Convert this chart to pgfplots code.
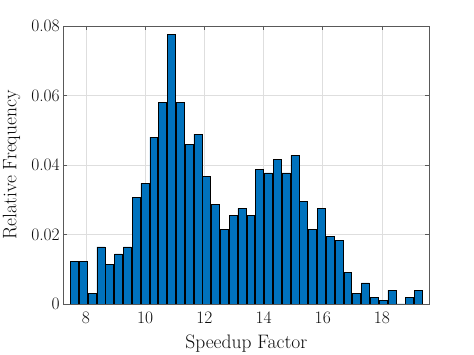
\documentclass[border=0pt]{standalone}
\usepackage{fontspec}
\usepackage{pgfplots}
\pgfplotsset{compat=1.18}
\definecolor{mblue}{rgb}{0,0.447,0.741}
\definecolor{mgrid}{rgb}{0.87,0.87,0.87}
\definecolor{maxis}{rgb}{0.35,0.35,0.35}
\definecolor{mtext}{rgb}{0.05,0.05,0.05}
\begin{document}
\begin{tikzpicture}
\begin{axis}[
  name=ax,
  scale only axis,
  width=366pt, height=278pt,
  xmin=7.233, xmax=19.60,
  ymin=0, ymax=0.08,
  xtick={8,10,12,14,16,18},
  ytick={0,0.02,0.04,0.06,0.08},
  yticklabels={0,0.02,0.04,0.06,0.08},
  scaled y ticks=false,
  /pgf/number format/assume math mode=true,
  ticklabel style={font=\fontsize{17.5}{20}\selectfont, text=mtext},
  xticklabel style={yshift=-4pt},
  label style={font=\fontsize{19.5}{22}\selectfont, text=mtext},
  xlabel style={yshift=-5pt},
  ylabel style={yshift=4pt},
  xlabel={Speedup Factor},
  ylabel={Relative Frequency},
  grid=major,
  major grid style={mgrid, line width=0.6pt},
  axis line style={maxis, line width=0.7pt},
  major tick style={maxis, line width=0.6pt},
  major tick length=4pt,
  tick align=inside,
  xtick pos=both, ytick pos=both,
]
\addplot[ybar, bar width=0.268, fill=mblue, draw=black, line width=0.5pt] coordinates {
(7.608,0.0123) (7.906,0.0123) (8.204,0.0031) (8.502,0.0164) (8.800,0.0113)
(9.098,0.0144) (9.396,0.0164) (9.694,0.0306) (9.992,0.0347) (10.290,0.0480)
(10.588,0.0581) (10.886,0.0775) (11.184,0.0581) (11.482,0.0459) (11.779,0.0489)
(12.077,0.0367) (12.375,0.0286) (12.673,0.0215) (12.971,0.0255) (13.269,0.0275)
(13.567,0.0255) (13.865,0.0388) (14.163,0.0377) (14.461,0.0417) (14.759,0.0377)
(15.057,0.0428) (15.355,0.0295) (15.653,0.0214) (15.951,0.0275) (16.249,0.0194)
(16.547,0.0183) (16.845,0.0091) (17.143,0.0031) (17.441,0.0061) (17.738,0.0020)
(18.036,0.0010) (18.334,0.0040) (18.632,0) (18.930,0.0020) (19.228,0.0040)
};
\end{axis}
\pgfresetboundingbox
\path (ax.south west) ++(-63.3pt,-51pt) coordinate (bl);
\path (ax.north east) ++(44.7pt,26pt) coordinate (tr);
\path[use as bounding box] (bl) rectangle (tr);
\end{tikzpicture}
\end{document}
